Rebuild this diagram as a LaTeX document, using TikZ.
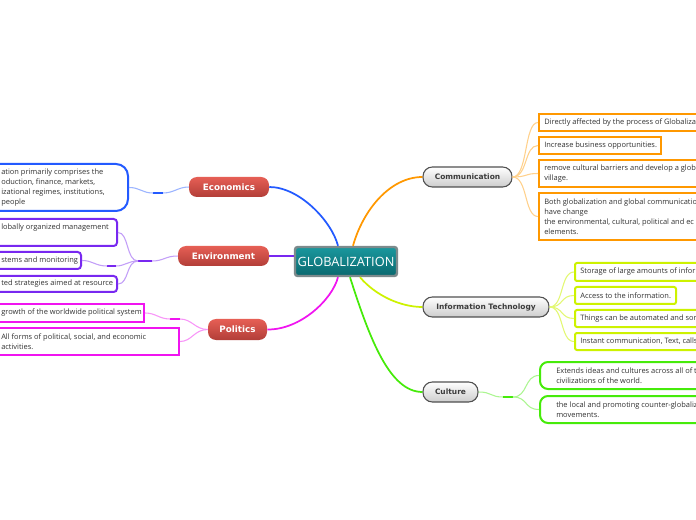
\documentclass[tikz,border=0pt]{standalone}
\usepackage{fontspec}
\setmainfont{Open Sans}
\newfontfamily\brfont{DejaVu Sans}
\usetikzlibrary{fit}
\definecolor{blueC}{RGB}{35,90,255}
\definecolor{purpC}{RGB}{120,40,240}
\definecolor{magC}{RGB}{240,20,240}
\definecolor{orC}{RGB}{255,152,0}
\definecolor{ygC}{RGB}{205,242,0}
\definecolor{grC}{RGB}{70,235,10}
\definecolor{leafgray}{RGB}{50,50,50}
\definecolor{redT}{RGB}{230,95,85}
\definecolor{redB}{RGB}{178,62,56}
\definecolor{greyB}{RGB}{205,205,205}
\definecolor{greyD}{RGB}{80,80,80}
\definecolor{greyT}{RGB}{60,60,60}
\definecolor{tealT}{RGB}{26,152,158}
\definecolor{tealB}{RGB}{10,104,110}
\definecolor{tealD}{RGB}{125,138,140}
\tikzset{
  leafbox/.style={draw, line width=1.5pt, fill=white, inner sep=0pt},
  leaftext/.style={font=\fontsize{5.6}{7.5}\selectfont, text=leafgray, inner sep=0pt, align=left, anchor=west},
  redbr/.style={top color=redT, bottom color=redB, rounded corners=6pt, inner sep=0pt, text=white, font=\brfont\bfseries\fontsize{6.6}{8}\selectfont},
  greybr/.style={top color=white, bottom color=greyB, draw=greyD, line width=0.8pt, rounded corners=7pt, inner sep=0pt, text=greyT, font=\brfont\bfseries\fontsize{5.6}{7}\selectfont},
  mainline/.style={line width=1.3pt},
  subline/.style={line width=0.8pt},
  stubline/.style={line width=1.6pt}
}
\begin{document}
\begin{tikzpicture}[x=0.75pt,y=-0.75pt]
\useasboundingbox (0,0) rectangle (696,520);
\fill[white] (0,0) rectangle (696,520);
\clip (0,0) rectangle (696,520);

% central
\node[minimum width=76.5pt, minimum height=21.75pt, inner sep=0pt, top color=tealT, bottom color=tealB, draw=tealD, line width=1.8pt, rounded corners=2pt, text=white, font=\fontsize{9.6}{11}\selectfont] (glob) at (346,261.5) {GLOBALIZATION};

% branches
\node[redbr, minimum width=60pt, minimum height=15pt] (eco) at (229,187) {Economics};
\node[redbr, minimum width=68.25pt, minimum height=15pt] (env) at (223.5,256) {Environment};
\node[redbr, minimum width=44.25pt, minimum height=15.75pt] (pol) at (237.5,329.5) {Politics};
\node[greybr, minimum width=66.75pt, minimum height=15pt] (com) at (467.5,177) {Communication};
\node[greybr, minimum width=94.5pt, minimum height=15pt] (it) at (486,307) {Information Technology};
\node[greybr, minimum width=41.25pt, minimum height=15pt] (cul) at (450.5,392) {Culture};

% left leaves
\node[leafbox, draw=blueC, rounded corners=9pt, fit={(-60,164)(128,211)}] (ecL) {};
\node[leaftext] (ecLt) at (1,187.5) {ation primarily comprises the\\oduction, finance, markets,\\izational regimes, institutions,\\people};
\node[leafbox, draw=purpC, rounded corners=2.5pt, fit={(-60,219)(117,246)}] (en1) {};
\node[leaftext] (en1t) at (1,228) {lobally organized management};
\node[leafbox, draw=purpC, rounded corners=2.5pt, fit={(-60,252)(81,269)}] (en2) {};
\node[leaftext] (en2t) at (1,260.5) {stems and monitoring};
\node[leafbox, draw=purpC, rounded corners=2.5pt, fit={(-60,276)(117,292)}] (en3) {};
\node[leaftext] (en3t) at (1,284) {ted strategies aimed at resource};
\node[leafbox, draw=magC, fit={(-60,304)(144,322)}] (po1) {};
\node[leaftext] (po1t) at (1,313) {growth of the worldwide political system};
\node[leafbox, draw=magC, fit={(-60,328)(179,355)}] (po2) {};
\node[leaftext] (po2t) at (1,341.5) {All forms of political, social, and economic\\activities.};

% right leaves
\node[leafbox, draw=orC, fit={(539,114)(740,131)}] (c1) {};
\node[leaftext] (c1t) at (544,122.5) {Directly affected by the process of Globaliza};
\node[leafbox, draw=orC, fit={(539,137)(661,154)}] (c2) {};
\node[leaftext] (c2t) at (544,145.5) {Increase business opportunities.};
\node[leafbox, draw=orC, fit={(539,160)(740,187)}] (c3) {};
\node[leaftext] (c3t) at (544,173.5) {remove cultural barriers and develop a glob\\village.};
\node[leafbox, draw=orC, fit={(539,193)(740,240)}] (c4) {};
\node[leaftext] (c4t) at (544,216.5) {Both globalization and global communicatio\\have change\\the environmental, cultural, political and ec\\elements.};

\node[leafbox, draw=ygC, rounded corners=1.5pt, fit={(575,263)(740,281)}] (i1) {};
\node[leaftext] (i1t) at (580,272) {Storage of large amounts of infor};
\node[leafbox, draw=ygC, rounded corners=1.5pt, fit={(575,287)(676,304)}] (i2) {};
\node[leaftext] (i2t) at (580,295.5) {Access to the information.};
\node[leafbox, draw=ygC, rounded corners=1.5pt, fit={(575,310)(740,327)}] (i3) {};
\node[leaftext] (i3t) at (580,318.5) {Things can be automated and sor};
\node[leafbox, draw=ygC, rounded corners=1.5pt, fit={(575,333)(740,350)}] (i4) {};
\node[leaftext] (i4t) at (580,341.5) {Instant communication, Text, calls};

\node[leafbox, draw=grC, rounded corners=6pt, fit={(540,362)(740,389)}] (cu1) {};
\node[leaftext] (cu1t) at (556,375.5) {Extends ideas and cultures across all of t\\civilizations of the world.};
\node[leafbox, draw=grC, rounded corners=6pt, fit={(540,396)(740,423)}] (cu2) {};
\node[leaftext] (cu2t) at (556,409.5) {the local and promoting counter-globaliz\\movements.};

% main connectors
\draw[mainline, blueC] ([xshift=-6pt]glob.north) .. controls (332,222) and (300,187) .. (eco.east);
\draw[mainline, orC] ([xshift=5.25pt]glob.north) .. controls (363,210) and (390,177) .. (com.west);
\draw[mainline, purpC] (env.east) -- (env.east -| glob.west);
\draw[mainline, magC] ([xshift=-6pt]glob.south) .. controls (332,300) and (300,330) .. (pol.east);
\draw[mainline, ygC] ([xshift=10.5pt]glob.south) .. controls (375,295) and (400,307) .. (it.west);
\draw[mainline, grC] ([xshift=3pt]glob.south) .. controls (370,340) and (390,392) .. (cul.west);

% junction points
\coordinate (ecS1) at (163,193); \coordinate (ecS2) at (153,193);
\coordinate (enS1) at (152,261); \coordinate (enS2) at (138,261);
\coordinate (en2S1) at (116,266); \coordinate (en2S2) at (107,266);
\coordinate (poS1) at (180,319); \coordinate (poS2) at (170,319);
\coordinate (cuS1) at (503,397); \coordinate (cuS2) at (513,397);

% economics
\draw[subline, blueC!45] (eco.west) .. controls (178,187) and (174,193) .. (ecS1);
\draw[stubline, blueC] (ecS1) -- (ecS2);
\draw[subline, blueC!45] (ecS2) .. controls (142,193) and (140,187.5) .. (ecL.east);
% environment
\draw[subline, purpC!45] (env.west) .. controls (165,256) and (164,261) .. (enS1);
\draw[stubline, purpC] (enS1) -- (enS2);
\draw[subline, purpC!45] (enS2) .. controls (126,261) and (129,232.5) .. (en1.east);
\draw[subline, purpC!45] (enS2) .. controls (126,261) and (129,284) .. (en3.east);
\draw[subline, purpC!45] (enS2) .. controls (128,261) and (125,266) .. (en2S1);
\draw[stubline, purpC] (en2S1) -- (en2S2);
\draw[subline, purpC!45] (en2S2) .. controls (95,266) and (93,260.5) .. (en2.east);
% politics
\draw[subline, magC!45] (pol.west) .. controls (195,329.5) and (192,319) .. (poS1);
\draw[stubline, magC] (poS1) -- (poS2);
\draw[subline, magC!45] (poS2) .. controls (159,319) and (156,313) .. (po1.east);
\draw[subline, magC!45] (pol.west) .. controls (194,329.5) and (192,341.5) .. (po2.east);
% communication
\draw[subline, orC!45] (com.east) .. controls (528,177) and (524,122.5) .. (c1.west);
\draw[subline, orC!45] (com.east) .. controls (528,177) and (524,145.5) .. (c2.west);
\draw[subline, orC!45] (com.east) .. controls (528,177) and (524,173.5) .. (c3.west);
\draw[subline, orC!45] (com.east) .. controls (528,177) and (524,216.5) .. (c4.west);
% information technology
\draw[subline, ygC!55] (it.east) .. controls (564,307) and (560,272) .. (i1.west);
\draw[subline, ygC!55] (it.east) .. controls (564,307) and (560,295.5) .. (i2.west);
\draw[subline, ygC!55] (it.east) .. controls (564,307) and (560,318.5) .. (i3.west);
\draw[subline, ygC!55] (it.east) .. controls (564,307) and (560,341.5) .. (i4.west);
% culture
\draw[subline, grC!45] (cul.east) .. controls (492,392) and (490,397) .. (cuS1);
\draw[stubline, grC] (cuS1) -- (cuS2);
\draw[subline, grC!45] (cuS2) .. controls (528,397) and (524,375.5) .. (cu1.west);
\draw[subline, grC!45] (cuS2) .. controls (528,397) and (524,409.5) .. (cu2.west);
\end{tikzpicture}
\end{document}
